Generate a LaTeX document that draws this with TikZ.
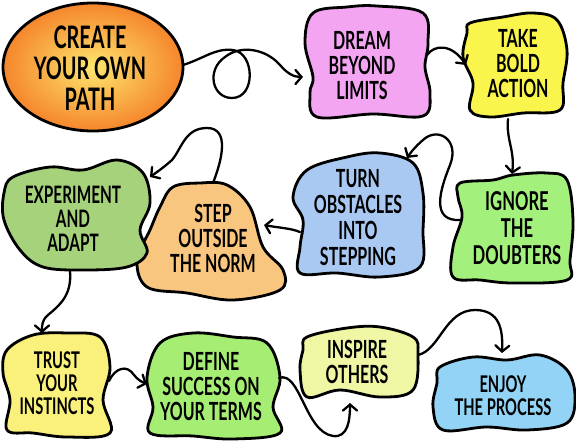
\documentclass[tikz,border=0pt]{standalone}
\usepackage{fontspec}
\usetikzlibrary{arrows.meta}
\newfontfamily\handfont[FakeStretch=0.64]{Lato}
\definecolor{createin}{HTML}{FDE66E}
\definecolor{createout}{HTML}{F5862C}
\definecolor{dreamc}{HTML}{F4A5F2}
\definecolor{takec}{HTML}{F9F54D}
\definecolor{ignorec}{HTML}{A4F07D}
\definecolor{turnc}{HTML}{A9C9F2}
\definecolor{stepc}{HTML}{F9C67F}
\definecolor{experc}{HTML}{A6D27B}
\definecolor{trustc}{HTML}{FAF07C}
\definecolor{definec}{HTML}{A6EE73}
\definecolor{inspirec}{HTML}{EFF7A5}
\definecolor{enjoyc}{HTML}{93D4F6}
\begin{document}
\begin{tikzpicture}[x=1pt,y=-1pt,
  blob/.style={draw=black, line width=2.8pt, line join=round},
  link/.style={line width=2.3pt, line cap=round, -{Straight Barb[length=6pt,width=14pt,line cap=round]}},
  lbl/.style={align=center, inner sep=0pt, font=\handfont\bfseries\fontsize{25}{25}\selectfont}]
    \useasboundingbox (0,0) rectangle (576,442);

    % bubbles
    \shade[inner color=createin, outer color=createout] (93,67) ellipse [x radius=90, y radius=64];
    \draw[blob] (93,67) ellipse [x radius=90, y radius=64];
    \draw[blob, fill=dreamc] plot[smooth cycle, tension=0.6] coordinates {(313,13) (347,7) (377,6) (423,13) (428,43) (425,67) (430,93) (423,116) (373,114) (317,117) (310,93) (313,77) (305,43)};
    \draw[blob, fill=takec] plot[smooth cycle, tension=0.6] coordinates {(470,23) (503,17) (533,13) (557,20) (567,50) (563,83) (560,110) (523,113) (490,117) (470,110) (473,83) (463,57) (467,33)};
    \draw[blob, fill=ignorec] plot[smooth cycle, tension=0.6] coordinates {(460,183) (493,180) (513,175) (547,173) (567,180) (573,220) (570,260) (567,280) (513,283) (480,280) (453,277) (453,247) (462,217) (458,197)};
    \draw[blob, fill=turnc] plot[smooth cycle, tension=0.6] coordinates {(307,170) (347,157) (380,153) (413,163) (423,193) (423,230) (420,267) (380,277) (337,273) (300,273) (300,247) (303,220) (293,197)};
    \draw[blob, fill=stepc] plot[smooth cycle, tension=0.6] coordinates {(173,187) (200,183) (227,185) (250,207) (263,247) (283,270) (280,290) (233,300) (187,293) (147,287) (137,260) (150,230) (160,207)};
    \draw[blob, fill=experc] plot[smooth cycle, tension=0.6] coordinates {(13,177) (50,167) (83,170) (117,160) (143,173) (150,203) (140,230) (147,253) (127,267) (83,270) (43,267) (20,250) (4,220) (4,193)};
    \draw[blob, fill=trustc] plot[smooth cycle, tension=0.6] coordinates {(7,350) (33,335) (67,333) (100,337) (110,367) (103,400) (110,433) (67,437) (33,433) (7,430) (10,400) (3,373)};
    \draw[blob, fill=definec] plot[smooth cycle, tension=0.6] coordinates {(160,343) (193,333) (233,337) (267,343) (280,377) (273,407) (280,433) (233,439) (193,436) (150,433) (153,407) (147,377)};
    \draw[blob, fill=inspirec] plot[smooth cycle, tension=0.6] coordinates {(307,337) (347,328) (380,327) (413,337) (418,353) (413,390) (380,397) (340,390) (307,397) (300,370) (303,350)};
    \draw[blob, fill=enjoyc] plot[smooth cycle, tension=0.6] coordinates {(440,367) (473,357) (507,360) (540,355) (567,370) (575,397) (567,423) (527,430) (487,427) (443,430) (433,407) (437,383)};

    % texts
    \node[lbl, font=\handfont\bfseries\fontsize{31}{31}\selectfont] (create) at (90,68) {CREATE\\YOUR OWN\\PATH};
    \node[lbl] (dream) at (362,66) {DREAM\\BEYOND\\LIMITS};
    \node[lbl] (take) at (518,64) {TAKE\\BOLD\\ACTION};
    \node[lbl, font=\handfont\bfseries\fontsize{26}{27}\selectfont] (ignore) at (517,228) {IGNORE\\THE\\DOUBTERS};
    \node[lbl, font=\handfont\bfseries\fontsize{25}{26}\selectfont] (turn) at (358,218) {TURN\\OBSTACLES\\INTO\\STEPPING};
    \node[lbl] (step) at (213,238) {STEP\\OUTSIDE\\THE NORM};
    \node[lbl, font=\handfont\bfseries\fontsize{24}{24}\selectfont] (experiment) at (73,219) {EXPERIMENT\\AND\\ADAPT};
    \node[lbl, font=\handfont\bfseries\fontsize{23}{23}\selectfont] (trust) at (57,383) {TRUST\\YOUR\\INSTINCTS};
    \node[lbl] (define) at (211,387) {DEFINE\\SUCCESS ON\\YOUR TERMS};
    \node[lbl] (inspire) at (357,362) {INSPIRE\\OTHERS};
    \node[lbl, font=\handfont\bfseries\fontsize{23}{23}\selectfont] (enjoy) at (503,396) {ENJOY\\THE PROCESS};

    % connector ends
    \coordinate (create-out) at (183,65);
    \coordinate (dream-in) at (303,77);
    \coordinate (dream-out) at (427,55);
    \coordinate (take-in) at (466,65);
    \coordinate (take-out) at (508,119);
    \coordinate (ignore-in) at (512,174);
    \coordinate (ignore-out) at (461,220);
    \coordinate (turn-in) at (407,158);
    \coordinate (turn-out) at (300,232);
    \coordinate (step-in) at (264,225);
    \coordinate (step-out) at (213,183);
    \coordinate (experiment-in) at (150,177);
    \coordinate (experiment-out) at (70,271);
    \coordinate (trust-in) at (42,333);
    \coordinate (trust-out) at (109,381);
    \coordinate (define-in) at (147,384);
    \coordinate (define-out) at (279,378);
    \coordinate (inspire-in) at (350,403);
    \coordinate (inspire-out) at (418,355);
    \coordinate (enjoy-in) at (502,353);

    % connectors
    \draw[link] (create-out) .. controls (205,58) and (215,48) .. (233,50) .. controls (255,53) and (256,98) .. (232,98) .. controls (212,98) and (206,70) .. (225,57) .. controls (240,45) and (265,48) .. (280,65) .. controls (287,73) and (293,77) .. (dream-in);
    \draw[link] (dream-out) .. controls (435,44) and (452,44) .. (take-in);
    \draw[link] (take-out) .. controls (506,140) and (515,150) .. (ignore-in);
    \draw[link] (ignore-out) .. controls (430,222) and (440,190) .. (450,165) .. controls (460,140) and (438,126) .. (423,140) .. controls (416,146) and (411,152) .. (turn-in);
    \draw[link] (turn-out) .. controls (290,228) and (280,228) .. (step-in);
    \draw[link] (step-out) .. controls (222,160) and (230,128) .. (207,128) .. controls (185,128) and (182,148) .. (172,160) .. controls (163,168) and (157,172) .. (experiment-in);
    \draw[link] (experiment-out) .. controls (72,295) and (60,305) .. (48,315) .. controls (42,320) and (42,325) .. (trust-in);
    \draw[link] (trust-out) .. controls (115,368) and (127,364) .. (134,375) .. controls (138,380) and (142,382) .. (define-in);
    \draw[link] (define-out) .. controls (300,370) and (305,432) .. (333,436) .. controls (348,438) and (350,420) .. (inspire-in);
    \draw[link] (inspire-out) .. controls (440,350) and (445,310) .. (475,310) .. controls (500,310) and (503,330) .. (enjoy-in);
\end{tikzpicture}
\end{document}
